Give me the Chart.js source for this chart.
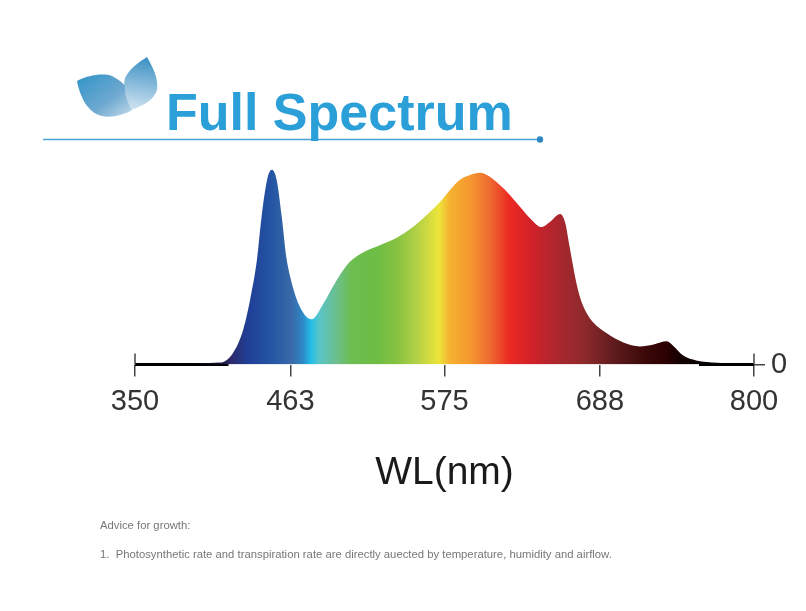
<!DOCTYPE html>
<html>
<head>
<meta charset="utf-8">
<title>Full Spectrum</title>
<script src="https://cdn.jsdelivr.net/npm/chart.js@4"></script>
<style>
  html, body { margin: 0; padding: 0; background: #fff; }
  body { width: 806px; height: 611px; position: relative; overflow: hidden; font-family: "Liberation Sans", Arial, sans-serif; }
  canvas { position: absolute; left: 0; top: 0; }
  .heading { position: absolute; left: 166px; top: 82px; font-size: 52px; line-height: 60px; font-weight: bold; color: #2a9fd8; white-space: nowrap; }
  .note { position: absolute; left: 100px; font-size: 11.3px; line-height: 14px; color: #777; white-space: pre; }
  svg { position: absolute; left: 0; top: 0; }
</style>
</head>
<body>
<canvas id="spectrum" width="806" height="611"></canvas>
<svg width="806" height="160">
  <defs>
    <linearGradient id="leafLeft" x1="0" y1="0" x2="1" y2="1">
      <stop offset="0" stop-color="#2f94c8"/>
      <stop offset="0.6" stop-color="#6fa9d0"/>
      <stop offset="1" stop-color="#c4dcec"/>
    </linearGradient>
    <linearGradient id="leafRight" x1="0.6" y1="0" x2="0.5" y2="1">
      <stop offset="0" stop-color="#3a90c4"/>
      <stop offset="1" stop-color="#cfe2f0"/>
    </linearGradient>
  </defs>
  <path d="M147 57 C152 66 159 78 157 90 C154 100 143 106 131 110 C126 100 122 90 125 78 C130 68 139 62 147 57 Z" fill="url(#leafRight)"/>
  <path d="M77 81 C88 75 103 73 112 76 C118 79 123 83 125 86 C124 94 128 103 132 110 C124 115 112 118 102 116 C88 113 80 97 77 81 Z" fill="url(#leafLeft)"/>
  <line x1="43" y1="139.5" x2="540" y2="139.5" stroke="#4aa3d6" stroke-width="1.5"/>
  <circle cx="540" cy="139.5" r="3.2" fill="#2f86c0"/>
</svg>
<div class="heading">Full Spectrum</div>
<div class="note" style="top:518px">Advice for growth:</div>
<div class="note" style="top:547px">1.  Photosynthetic rate and transpiration rate are directly auected by temperature, humidity and airflow.</div>
<script>
// values, intensity is relative to the blue peak
const wavelengths = [350, 412, 421, 428.5, 433.6, 438.6, 442, 446, 449.4, 453, 456.7, 460, 464, 470, 478.4, 487, 496.6, 506, 516, 528, 540, 552, 562, 571.7, 579, 586, 593.5, 600.8, 608, 615, 622.5, 630, 637, 645.6, 651.6, 659, 662.6, 666, 670, 673.5, 678, 683, 693, 705, 717, 727, 736.7, 741, 748.5, 758, 773, 787, 800];
const intensity = [0, 1, 5.7, 17.5, 33, 53.6, 75.8, 94.8, 100, 94.8, 75.8, 55.2, 41.8, 29.4, 23.2, 31.4, 43.3, 52.6, 57.7, 61.3, 65, 70.6, 76.8, 83.5, 89.7, 94.8, 97.4, 98.5, 96.4, 92.3, 87.1, 80.9, 75.3, 70.6, 73.2, 77.3, 73.2, 60.3, 44.8, 34.5, 26.8, 21.7, 16, 11.3, 9.3, 10.3, 11.9, 9.8, 4.6, 2.1, 0.9, 0.4, 0];

const xTicks = [350, 463, 575, 688, 800];
const yTicks = [0];
const xTitle = 'WL(nm)';

// black tails of the axis, and the two little end caps
const baselineNm = [350, 418, null, 760, 800];
const baselineVal = [0, 0, null, 0, 0];
const capHeight = [0, 5.7];

const colorNm = [350, 405, 420, 432, 450, 464, 472, 478, 484, 496, 507, 525, 540, 555, 571, 579, 593, 608, 622, 637, 659, 676, 700, 722, 737, 748, 775];
const colorHex = ['#000000', '#0a0a1c', '#2f2a6b', '#1f3f96', '#2456a4', '#3a6aa8', '#2e88c8', '#22bfe8', '#5ac4c8', '#6bbf90', '#6dbd52', '#6dbd45', '#85c241', '#b3d146', '#ede43a', '#f5b030', '#f59a30', '#ee6a30', '#ec2a24', '#d42128', '#a8272e', '#8f2a2c', '#5c1a1c', '#3a0808', '#2a0000', '#100000', '#000000'];

function spectrumFill(context) {
    const area = context.chart.chartArea;
    if (!area) return '#000';
    const g = context.chart.ctx.createLinearGradient(area.left, 0, area.right, 0);
    colorNm.forEach((nm, i) => g.addColorStop((nm - 350) / 450, colorHex[i]));
    return g;
}

const toPoints = (xs, ys) => xs.map((x, i) => ({ x: x, y: ys[i] }));

new Chart(document.getElementById('spectrum').getContext('2d'), {
    type: 'line',
    data: {
        datasets: [
            {
                label: 'Spectrum',
                data: toPoints(wavelengths, intensity),
                fill: 'origin',
                backgroundColor: spectrumFill,
                borderWidth: 0,
                pointRadius: 0,
                cubicInterpolationMode: 'monotone',
                order: 1
            },
            {
                label: 'Baseline',
                data: toPoints(baselineNm, baselineVal),
                borderColor: '#000',
                borderWidth: 3,
                pointRadius: 0,
                clip: false,
                order: 2
            },
            {
                label: 'Cap 350',
                data: toPoints([350, 350], capHeight),
                borderColor: '#444',
                borderWidth: 1.5,
                pointRadius: 0,
                clip: false,
                order: 0
            },
            {
                label: 'Cap 800',
                data: toPoints([800, 800], capHeight),
                borderColor: '#444',
                borderWidth: 1.5,
                pointRadius: 0,
                clip: false,
                order: 0
            }
        ]
    },
    options: {
        responsive: false,
        animation: false,
        layout: { padding: { top: 164, left: 135, right: 0, bottom: 0 } },
        plugins: { legend: { display: false }, tooltip: { enabled: false } },
        scales: {
            x: {
                type: 'linear',
                min: 350,
                max: 800,
                afterBuildTicks: (scale) => { scale.ticks = xTicks.map(v => ({ value: v })); },
                afterFit: (scale) => { scale.height = 246.5; },
                border: { display: false },
                grid: { drawOnChartArea: false, color: '#444', lineWidth: 1.5, tickLength: 12 },
                ticks: {
                    color: '#333',
                    font: { family: '"Liberation Sans", Arial, sans-serif', size: 29 },
                    padding: 8,
                    maxRotation: 0,
                    autoSkip: false,
                    callback: (v) => String(v)
                },
                title: {
                    display: true,
                    text: xTitle,
                    color: '#1a1a1a',
                    font: { family: '"Liberation Sans", Arial, sans-serif', size: 39 },
                    padding: { top: 30, bottom: 114 }
                }
            },
            y: {
                position: 'right',
                min: 0,
                max: 103,
                afterBuildTicks: (scale) => { scale.ticks = yTicks.map(v => ({ value: v })); },
                afterFit: (scale) => { scale.width = 52; },
                border: { display: false },
                grid: { drawOnChartArea: false, color: '#444', lineWidth: 1.5, tickLength: 11 },
                ticks: {
                    color: '#333',
                    font: { family: '"Liberation Sans", Arial, sans-serif', size: 29 },
                    padding: 6,
                    callback: (v) => String(v)
                }
            }
        }
    }
});
</script>
</body>
</html>
